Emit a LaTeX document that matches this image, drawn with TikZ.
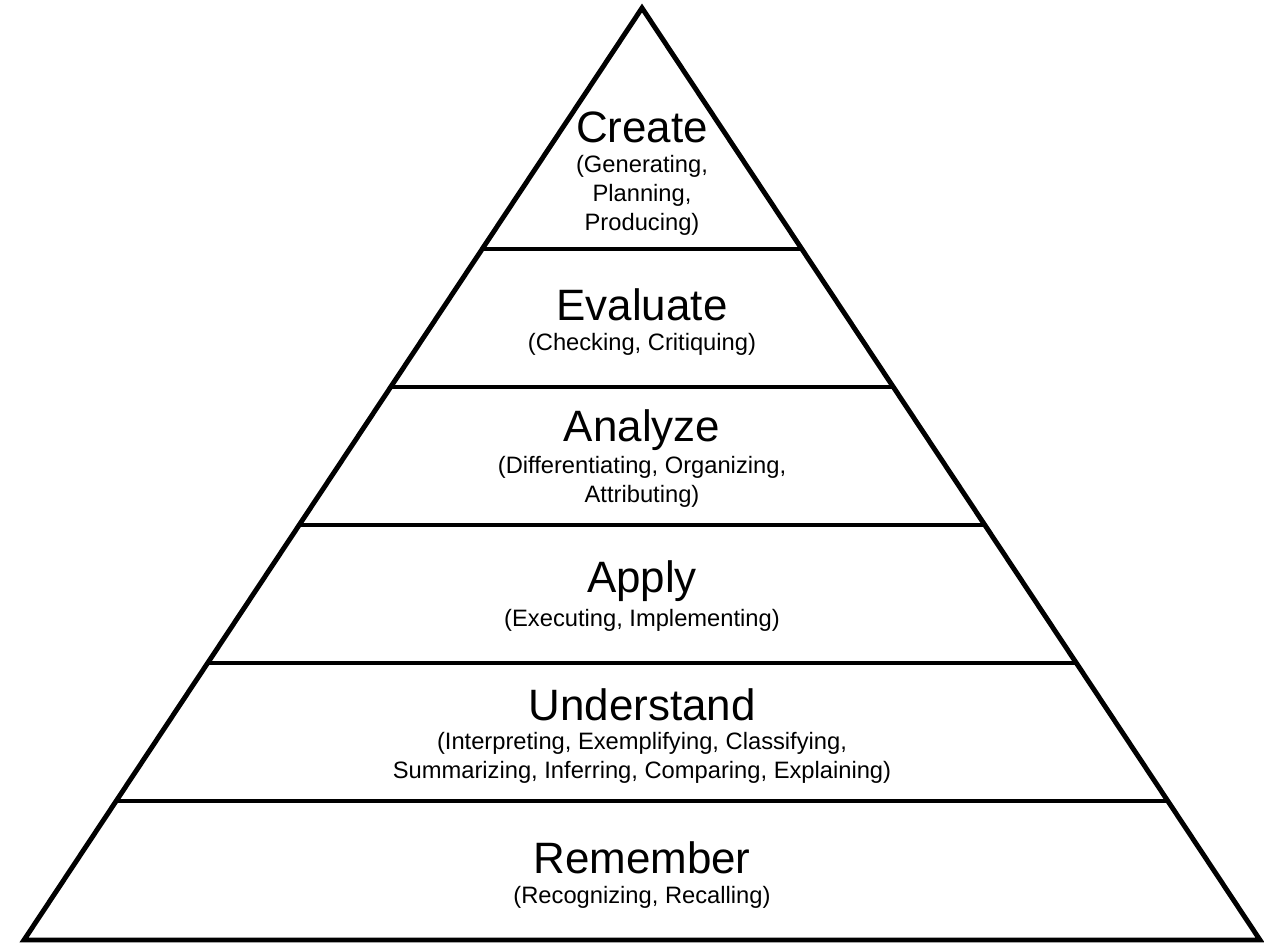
\documentclass[tikz,border=0pt]{standalone}
\usepackage{fontspec}
\setmainfont{Liberation Sans}
\begin{document}
\begin{tikzpicture}[x=0.02cm,y=-0.02cm,
  edge/.style={line width=2.8pt,line join=miter},
  title/.style={font=\fontsize{25}{28}\selectfont},
  sub/.style={font=\fontsize{13.5}{16.5}\selectfont,align=center}]
\useasboundingbox (0,0) rectangle (1264,950);
\coordinate (apex) at (642,8);
\coordinate (bl) at (24,940);
\coordinate (br) at (1260,940);
\draw[edge] (bl) -- (apex) -- (br) -- cycle;
\foreach \y in {249,387,525,663,801}{
  \pgfmathsetmacro{\dx}{0.6631*(\y-8)}
  \draw[edge] ({642-\dx},\y) -- ({642+\dx},\y);
}
\node[title] (t1) at (642,127) {Create};
\node[sub] (s1) at (642,195) {(Generating,\\Planning,\\Producing)};
\node[title] (t2) at (642,305) {Evaluate};
\node[sub] (s2) at (642,344) {(Checking, Critiquing)};
\node[title] (t3) at (642,430) {Analyze};
\node[sub] (s3) at (642,482) {(Differentiating, Organizing,\\Attributing)};
\node[title] (t4) at (642,581) {Apply};
\node[sub] (s4) at (642,620) {(Executing, Implementing)};
\node[title] (t5) at (642,705) {Understand};
\node[sub] (s5) at (642,758) {(Interpreting, Exemplifying, Classifying,\\Summarizing, Inferring, Comparing, Explaining)};
\node[title] (t6) at (642,858) {Remember};
\node[sub] (s6) at (642,897) {(Recognizing, Recalling)};
\end{tikzpicture}
\end{document}
